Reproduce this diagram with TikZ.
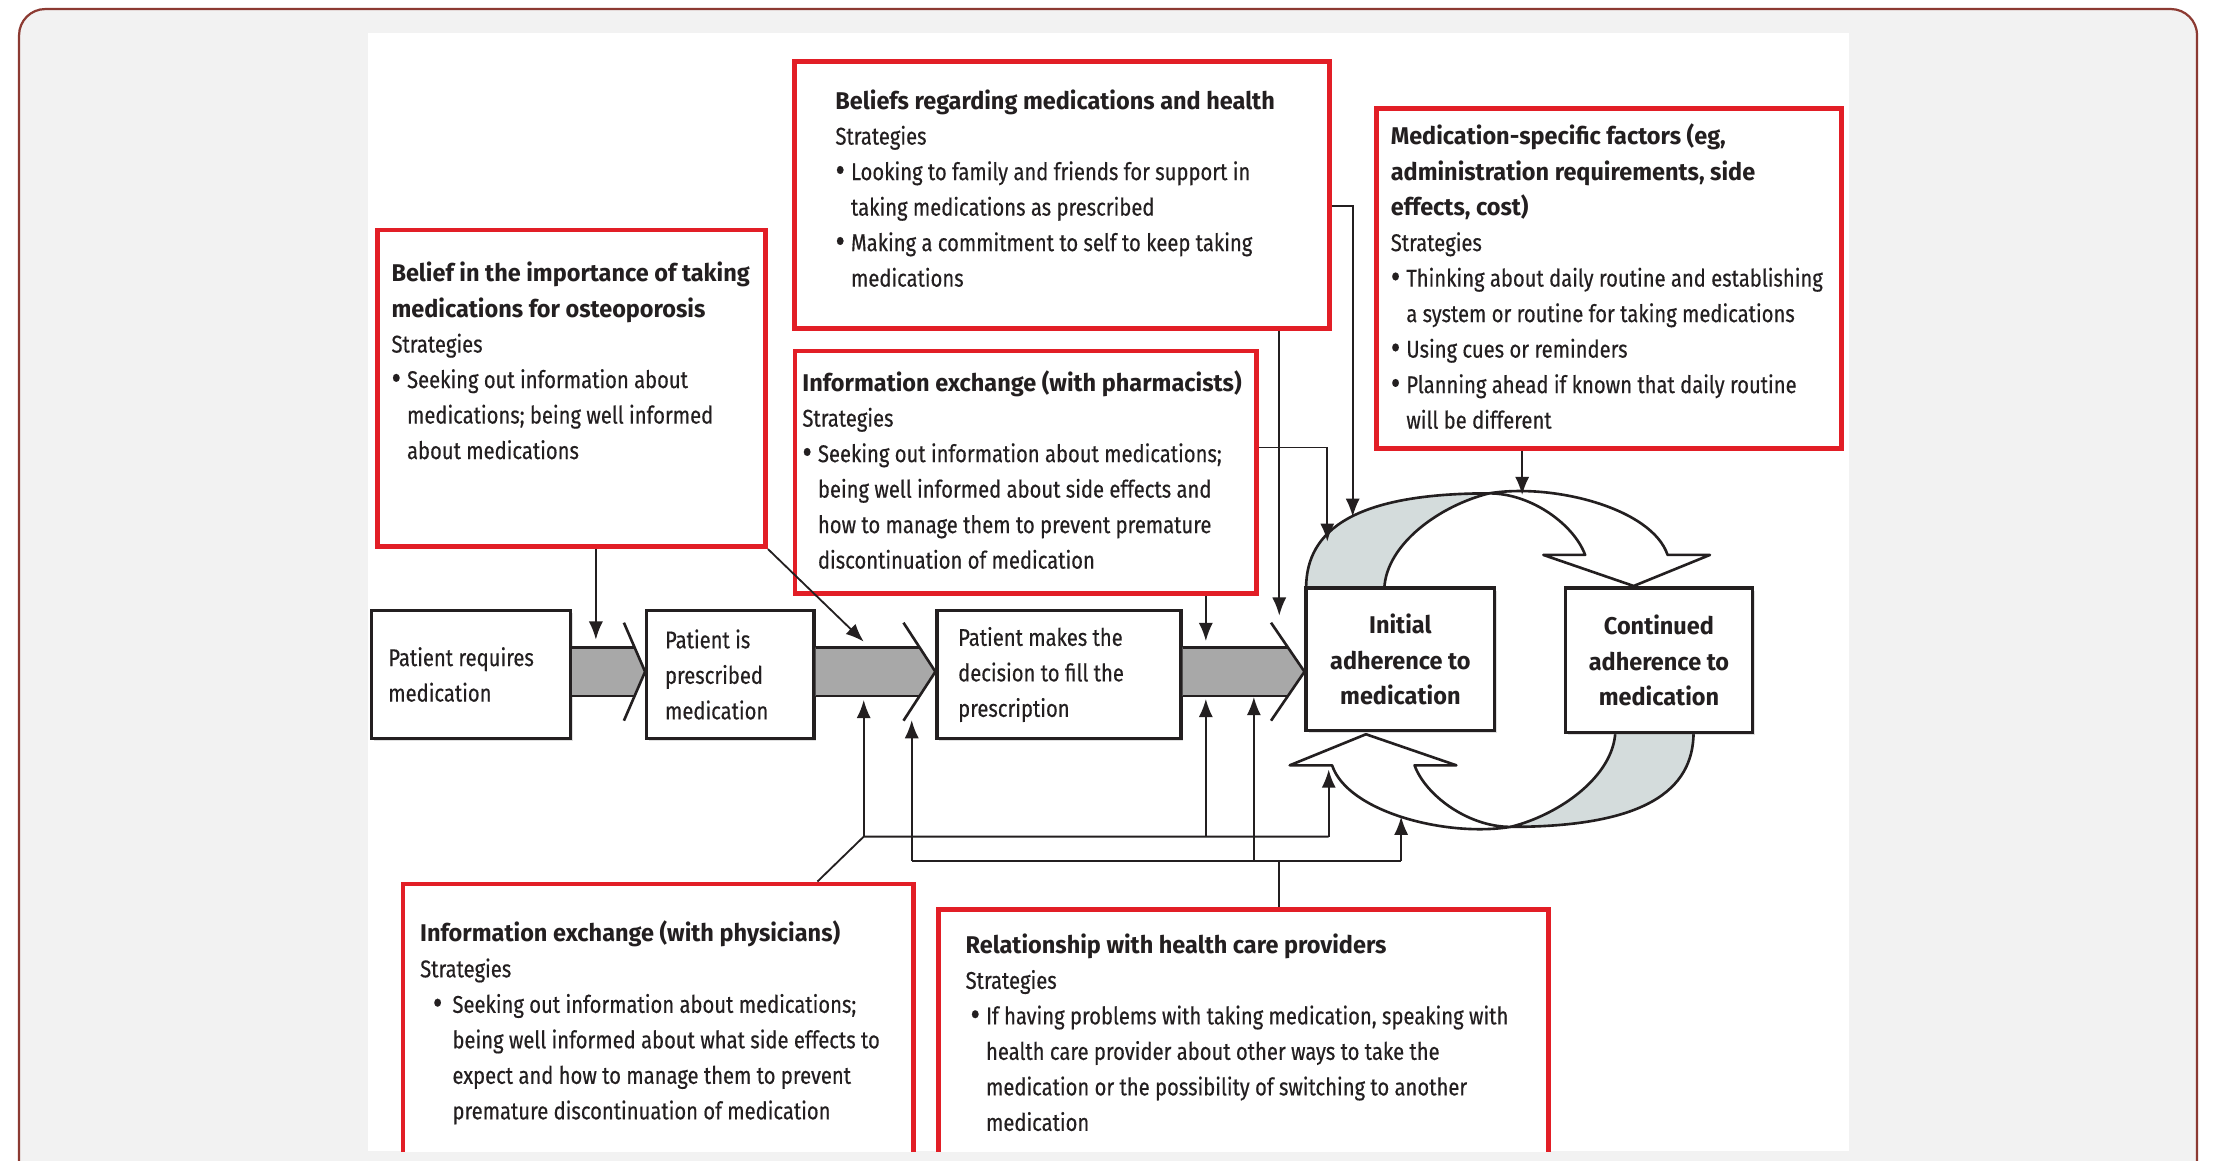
\documentclass[tikz,border=0pt]{standalone}
\usepackage{fontspec}
\setmainfont{Fira Sans}[FakeStretch=0.835, FakeBold=0.4]
\newfontfamily\headfont{Fira Sans}[FakeStretch=0.97]
\usetikzlibrary{arrows.meta}
\usetikzlibrary{calc}
\usetikzlibrary{shadows}
\definecolor{boxred}{RGB}{226,30,38}
\definecolor{framered}{RGB}{140,58,50}
\definecolor{flowgrey}{RGB}{168,168,168}
\definecolor{ribbon}{RGB}{212,220,220}
\definecolor{ink}{RGB}{35,31,32}
\newcommand\hd{\headfont\bfseries}
\newcommand\dotmark{\raisebox{-0.9pt}{\scalebox{1.45}{\textbullet}}}
\newcommand\itm{\dotmark\hspace*{3pt}}
\newcommand\cnt{\hphantom{\dotmark}\hspace*{3pt}}

\begin{document}
\begin{tikzpicture}[x=0.7pt, y=-0.7pt, font=\fontsize{12}{17.6}\selectfont]
		\tikzset{redbox/.style={draw=boxred, line width=2.4pt, fill=white, inner sep=0pt}}
		\tikzset{stage/.style={draw=ink, line width=1.6pt, fill=white, align=flush left, text=ink,
				drop shadow={shadow xshift=1.2pt, shadow yshift=-1.2pt, opacity=0.25}}}
		\tikzset{txt/.style={anchor=north west, inner sep=0pt, align=left, text=ink}}
		\tikzset{wire/.style={draw=ink, line width=0.9pt}}
		\tikzset{link/.style={->, > = {Latex[length=9pt, width=7pt]}, draw=ink, line width=0.9pt}}
		\tikzset{blockline/.style={draw=ink, line width=1.3pt, line join=round}}
		%page
		\useasboundingbox (0,0) rectangle (1568,822.2);
		\clip (0,0) rectangle (1568,822.2);
		\fill[white] (0,0) rectangle (1568,822.2);
		\draw[framered, line width=1.1pt, fill=black!5, rounded corners=13pt] (13.5,6.4) rectangle (1556,860);
		\fill[white] (260.6,23.4) rectangle (1309.5,815.2);
		\begin{scope}
		\clip (260.6,23.4) rectangle (1309.5,815.2);
		%adherence cycle
		\foreach \r in {0,180}{
			\begin{scope}[rotate around={\r:(1062.2,467.5)}]
			\filldraw[fill=ribbon, blockline] (925,416.5) .. controls (925,375) and (960,349.4) .. (1054.6,349.4)
				.. controls (1020,358) and (982,385) .. (980.4,416.5);
			\filldraw[fill=white, blockline] (1054.6,349.4) .. controls (1085,349.4) and (1115,372) .. (1122.6,393)
				-- (1093,393) -- (1157,415) -- (1211,393) -- (1181,393)
				.. controls (1170,360) and (1100,342) .. (1054.6,349.4) -- cycle;
			\end{scope}
		}
		%stages
		\node[stage, text width=81.9pt, inner xsep=8.4pt, minimum height=63.3pt] (p1) at (333.5,477.7) {Patient requires\\ medication};
		\node[stage, text width=64.75pt, inner xsep=9.1pt, minimum height=63.3pt] (p2) at (517.25,477.7) {Patient is\\ prescribed\\ medication};
		\node[stage, text width=99.96pt, inner xsep=10.5pt, minimum height=63.3pt] (p3) at (750,477.7) {Patient makes the\\ decision to fill the\\ prescription};
		\node[stage, align=center, inner sep=0pt, minimum width=93.45pt, minimum height=70.7pt] (init) at (991.75,467) {\hd Initial\\ \hd adherence to\\ \hd medication};
		\node[stage, align=center, inner sep=0pt, minimum width=92.96pt, minimum height=71.75pt] (cont) at (1174.9,467.75) {\hd Continued\\ \hd adherence to\\ \hd medication};
		%block arrows
		\coordinate (axis) at (0,475.7);
		\foreach \a/\b/\w in {p1/p2/15, p2/p3/22.6, p3/init/23.7}{
			\coordinate (s) at (\a.east |- axis);
			\coordinate (t) at (\b.west |- axis);
			\fill[flowgrey] ($(s)+(0,-17.2)$) -- ($(t)+(-0.5*\w,-17.2)$) -- (t) -- ($(t)+(-0.5*\w,17.2)$) -- ($(s)+(0,17.2)$) -- cycle;
			\draw[blockline] ($(s)+(0,-17.2)$) -- ($(t)+(-0.5*\w,-17.2)$);
			\draw[blockline] ($(s)+(0,17.2)$) -- ($(t)+(-0.5*\w,17.2)$);
			\draw[blockline] ($(t)+(-\w,-34.7)$) -- (t) -- ($(t)+(-\w,34.7)$);
		}
		%factor boxes
		\node[redbox, minimum width=192.4pt, minimum height=157pt] (bimp) at (404.8,275.05) {};
		\node[redbox, minimum width=265pt, minimum height=132.4pt] (bhealth) at (752.25,137.85) {};
		\node[redbox, minimum width=228.6pt, minimum height=120.1pt] (pharm) at (726.3,334.4) {};
		\node[redbox, minimum width=230.3pt, minimum height=168.6pt] (medf) at (1139.4,197.1) {};
		\node[redbox, minimum width=253pt, minimum height=149.8pt] (phys) at (466.1,733) {};
		\node[redbox, minimum width=302.3pt, minimum height=137.2pt] (rel) at (880.6,742) {};
		%factor texts
		\node[txt] (bimptext) at (277,185.2) {\hd Belief in the importance of taking\\ \hd medications for osteoporosis\\ Strategies\\
			\itm Seeking out information about\\ \cnt medications; being well informed\\ \cnt about medications};
		\node[txt] (bhealthtext) at (591.4,63.1) {\hd Beliefs regarding medications and health\\ Strategies\\
			\itm Looking to family and friends for support in\\ \cnt taking medications as prescribed\\
			\itm Making a commitment to self to keep taking\\ \cnt medications};
		\node[txt] (pharmtext) at (568,262) {\hd Information exchange (with pharmacists)\\ Strategies\\
			\itm Seeking out information about medications;\\ \cnt being well informed about side effects and\\
			\cnt how to manage them to prevent premature\\ \cnt discontinuation of medication};
		\node[txt] (medftext) at (984.7,87.4) {\hd Medication-specific factors (eg,\\ \hd administration requirements, side\\ \hd effects, cost)\\ Strategies\\
			\itm Thinking about daily routine and establishing\\ \cnt a system or routine for taking medications\\
			\itm Using cues or reminders\\ \itm Planning ahead if known that daily routine\\ \cnt will be different};
		\node[txt] (physText) at (297.3,652) {\hd Information exchange (with physicians)\\ Strategies\\
			\hspace*{6.3pt}\itm\hspace*{2pt}Seeking out information about medications;\\
			\hspace*{6.3pt}\cnt\hspace*{2pt}being well informed about what side effects to\\
			\hspace*{6.3pt}\cnt\hspace*{2pt}expect and how to manage them to prevent\\
			\hspace*{6.3pt}\cnt\hspace*{2pt}premature discontinuation of medication};
		\node[txt] (reltext) at (683.6,661) {\hd Relationship with health care providers\\ Strategies\\
			\hspace*{2.4pt}\itm If having problems with taking medication, speaking with\\
			\hspace*{2.4pt}\cnt health care provider about other ways to take the\\
			\hspace*{2.4pt}\cnt medication or the possibility of switching to another\\
			\hspace*{2.4pt}\cnt medication};
		%links from above
		\coordinate (d1) at (422,453);
		\coordinate (d2) at (611.7,454.4);
		\coordinate (d3) at (854,454);
		\coordinate (d4) at (906,436);
		\coordinate (d5) at (958,366);
		\coordinate (d6) at (940,383.6);
		\coordinate (d7) at (1078,350.6);
		\draw[link] (bimp.south -| d1) -- (d1);
		\draw[link] (bimp.south east) -- (d2);
		\draw[link] (pharm.south -| d3) -- (d3);
		\draw[link] (bhealth.south -| d4) -- (d4);
		\draw[link] ([yshift=-5.6pt]bhealth.east) -| (d5);
		\draw[link] ([yshift=12.2pt]pharm.east) -| (d6);
		\draw[link] (medf.south -| d7) -- (d7);
		%links from below
		\coordinate (h1) at (0,592.5);
		\coordinate (h2) at (0,609.5);
		\coordinate (u1) at (611.7,495.7);
		\coordinate (u2) at (854,495);
		\coordinate (u3) at (941,545);
		\coordinate (v1) at (645.7,510);
		\coordinate (v2) at (888,493.6);
		\coordinate (v3) at (992.3,578.4);
		\coordinate (k) at (906,609.5);
		\draw[wire] ([xshift=206.7pt]phys.north west) -- (u1 |- h1) -- (u3 |- h1);
		\draw[link] (u1 |- h1) -- (u1);
		\draw[link] (u2 |- h1) -- (u2);
		\draw[link] (u3 |- h1) -- (u3);
		\draw[wire] (rel.north -| k) -- (k);
		\draw[wire] (v1 |- h2) -- (v3 |- h2);
		\draw[link] (v1 |- h2) -- (v1);
		\draw[link] (v2 |- h2) -- (v2);
		\draw[link] (v3 |- h2) -- (v3);
		\end{scope}
\end{tikzpicture}
\end{document}
